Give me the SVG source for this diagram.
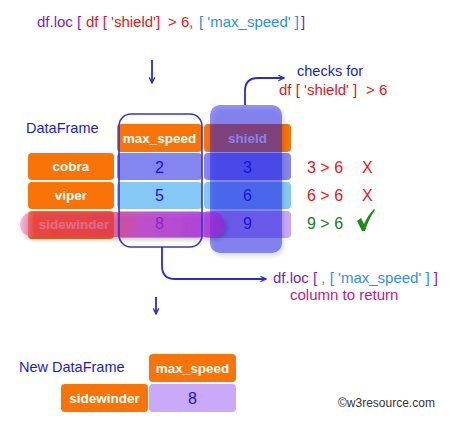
<svg xmlns="http://www.w3.org/2000/svg" width="450" height="422" viewBox="0 0 450 422">
<defs>
<style>
text{font-family:"Liberation Sans",Arial,sans-serif}
.lbl{fill:#ffffff;font-weight:bold;font-size:13.5px;text-anchor:middle}
.num{fill:#1414e0;font-size:16px;text-anchor:middle}
.or{fill:#f97306}
.c1{fill:#8585f0}
.c2{fill:#85c8f5}
.c3{fill:#c9a9f5}
.blue{fill:#1a1ad0;font-size:14.5px}
.red{fill:#e81414}
.pur{fill:#7a1cc0}
.lb{fill:#2f8cf0}
.cmp{font-size:16px}
.conn{fill:none;stroke:#2828dc;stroke-width:1.8}
</style>
<marker id="ah" viewBox="0 0 10 10" refX="9" refY="5" markerWidth="7" markerHeight="7" orient="auto" markerUnits="userSpaceOnUse">
<path d="M1,1 L9,5 L1,9" fill="none" stroke="#2828dc" stroke-width="1.8"/>
</marker>
<linearGradient id="pill" x1="0" y1="0" x2="1" y2="0">
<stop offset="0" stop-color="#f0a0e0"/>
<stop offset="0.07" stop-color="#e83a58"/>
<stop offset="0.45" stop-color="#e0306a"/>
<stop offset="0.6" stop-color="#c030c0"/>
<stop offset="1" stop-color="#a020d8"/>
</linearGradient>
<filter id="sh" x="-20%" y="-20%" width="150%" height="150%">
<feDropShadow dx="2" dy="3" stdDeviation="2" flood-color="#000" flood-opacity="0.3"/>
</filter>
</defs>

<g id="title">
<text x="37" y="27" font-size="15"><tspan class="pur">df.loc [</tspan><tspan x="86" class="red">df [ 'shield']</tspan><tspan x="168" class="red">&gt; 6,</tspan><tspan x="199" class="lb">[ 'max_speed' ]</tspan><tspan x="301" class="pur">]</tspan></text>
</g>

<g id="checks-note">
<text x="297" y="76" class="blue">checks for</text>
<text x="279" y="95" font-size="15" class="red">df [ 'shield' ]</text>
<text x="366" y="95" font-size="15" class="red">&gt; 6</text>
</g>

<g id="dataframe-label">
<text x="26" y="133" class="blue">DataFrame</text>
</g>

<g id="header-max_speed">
<rect x="117" y="124" width="85" height="28" rx="4" class="or"/>
<text x="159.5" y="143" class="lbl">max_speed</text>
</g>
<g id="header-shield">
<rect x="204" y="124" width="87" height="28" rx="4" class="or"/>
<text x="247.5" y="143" class="lbl">shield</text>
</g>

<g id="row-cobra">
<rect x="28" y="153" width="86" height="27" rx="4" class="or"/>
<text x="71" y="171" class="lbl">cobra</text>
<rect x="117" y="153" width="85" height="27" rx="4" class="c1"/>
<text x="159.5" y="173" class="num">2</text>
<rect x="204" y="153" width="87" height="27" rx="4" class="c1"/>
<text x="247.5" y="173" class="num">3</text>
</g>
<g id="row-viper">
<rect x="28" y="182" width="86" height="27" rx="4" class="or"/>
<text x="71" y="200" class="lbl">viper</text>
<rect x="117" y="182" width="85" height="27" rx="4" class="c2"/>
<text x="159.5" y="201" class="num">5</text>
<rect x="204" y="182" width="87" height="27" rx="4" class="c2"/>
<text x="247.5" y="201" class="num">6</text>
</g>
<g id="row-sidewinder">
<rect x="28" y="211" width="86" height="28" rx="4" class="or"/>
<text x="74" y="229" class="lbl">sidewinder</text>
<rect x="117" y="211" width="85" height="27" rx="4" class="c3"/>
<text x="159.5" y="229" class="num">8</text>
<rect x="204" y="211" width="87" height="27" rx="4" class="c3"/>
<text x="247.5" y="229" class="num">9</text>
</g>

<g id="shield-highlight">
<rect x="210" y="105" width="72" height="148" rx="10" fill="#1410ee" fill-opacity="0.46" filter="url(#sh)"/>
</g>
<g id="sidewinder-highlight">
<rect x="20" y="212" width="205" height="25" rx="12.5" fill="url(#pill)" fill-opacity="0.66" filter="url(#sh)"/>
</g>
<g id="max_speed-selection">
<rect x="119" y="114" width="83" height="133" rx="12" fill="none" stroke="#3434d4" stroke-width="1.6"/>
</g>

<g id="comparisons">
<text x="307" y="173" class="cmp red">3 &gt; 6</text>
<text x="362" y="173" class="cmp red">X</text>
<text x="307" y="201" class="cmp red">6 &gt; 6</text>
<text x="362" y="201" class="cmp red">X</text>
<text x="307" y="229" class="cmp" fill="#217a21">9 &gt; 6</text>
<path d="M357,221 L361,218 L364,224 Q368,215 374,209 L375,210 Q369,218 365,231 L362,231 Z" fill="#1f8a1f"/>
</g>

<g id="loc-note">
<text x="273" y="283" font-size="15"><tspan class="pur">df.loc [</tspan><tspan fill="#e06020"> ,</tspan><tspan class="lb"> [ 'max_speed' ]</tspan><tspan class="pur"> ]</tspan></text>
<text x="290" y="300" font-size="15" fill="#c0188a">column to return</text>
</g>

<g id="connectors">
<path d="M152,60 V83" class="conn" marker-end="url(#ah)"/>
<path d="M245,105 V91 Q245,78 258,78 H284" class="conn" marker-end="url(#ah)"/>
<path d="M162,247 V266 Q162,279 175,279 H266" class="conn" marker-end="url(#ah)"/>
<path d="M156,297 V314" class="conn" marker-end="url(#ah)"/>
</g>

<g id="new-dataframe-label">
<text x="19" y="372" class="blue">New DataFrame</text>
</g>
<g id="new-header">
<rect x="149" y="354" width="87" height="28" rx="4" class="or"/>
<text x="192.5" y="373" class="lbl">max_speed</text>
</g>
<g id="new-row-sidewinder">
<rect x="61" y="384" width="87" height="28" rx="4" class="or"/>
<text x="104.5" y="403" class="lbl">sidewinder</text>
<rect x="149" y="384" width="87" height="28" rx="4" fill="#c9a9f8"/>
<text x="192.5" y="404" class="num">8</text>
</g>

<g id="credit">
<text x="338" y="407" font-size="12" fill="#333333">©w3resource.com</text>
</g>
</svg>
